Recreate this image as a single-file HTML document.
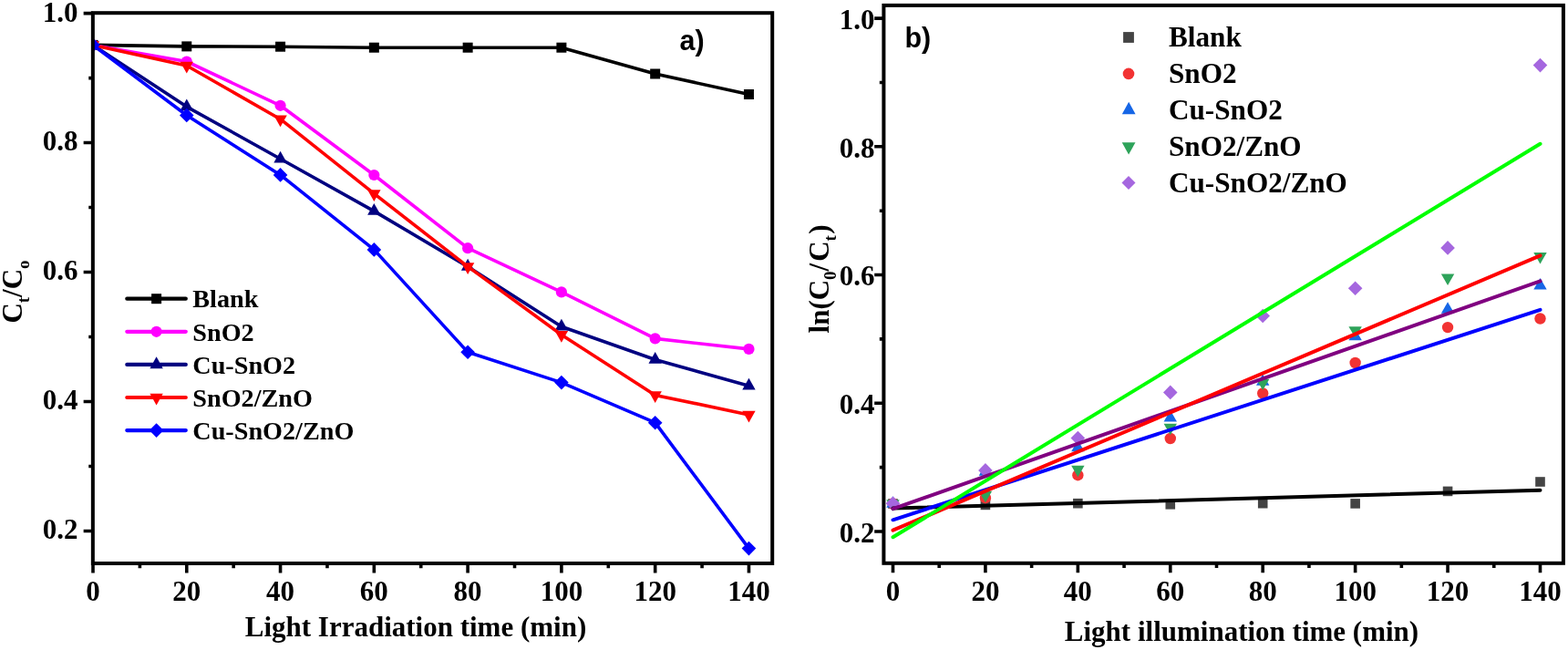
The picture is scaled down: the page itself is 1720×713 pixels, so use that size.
<!DOCTYPE html>
<html><head><meta charset="utf-8"><title>Photocatalytic degradation</title>
<style>html,body{margin:0;padding:0;background:#fff;width:1720px;height:713px;overflow:hidden}svg{display:block}</style>
</head><body>
<svg width="1720" height="713" viewBox="0 0 1720 713">
<rect width="1720" height="713" fill="#ffffff"/>
<g clip-path="url(#clipA)">
<polyline points="102.00,49.40 204.78,50.90 307.56,51.20 410.34,52.20 513.12,52.20 615.90,52.20 718.68,81.00 821.46,103.50" fill="none" stroke="#000000" stroke-width="3.6" stroke-linejoin="round" stroke-linecap="round"/>
<rect x="96.50" y="43.90" width="11.00" height="11.00" fill="#000000"/>
<rect x="199.28" y="45.40" width="11.00" height="11.00" fill="#000000"/>
<rect x="302.06" y="45.70" width="11.00" height="11.00" fill="#000000"/>
<rect x="404.84" y="46.70" width="11.00" height="11.00" fill="#000000"/>
<rect x="507.62" y="46.70" width="11.00" height="11.00" fill="#000000"/>
<rect x="610.40" y="46.70" width="11.00" height="11.00" fill="#000000"/>
<rect x="713.18" y="75.50" width="11.00" height="11.00" fill="#000000"/>
<rect x="815.96" y="98.00" width="11.00" height="11.00" fill="#000000"/>
<polyline points="102.00,49.40 204.78,67.50 307.56,115.80 410.34,192.00 513.12,272.20 615.90,320.40 718.68,371.40 821.46,382.90" fill="none" stroke="#ff00ff" stroke-width="3.6" stroke-linejoin="round" stroke-linecap="round"/>
<circle cx="102.00" cy="49.40" r="6.10" fill="#ff00ff"/>
<circle cx="204.78" cy="67.50" r="6.10" fill="#ff00ff"/>
<circle cx="307.56" cy="115.80" r="6.10" fill="#ff00ff"/>
<circle cx="410.34" cy="192.00" r="6.10" fill="#ff00ff"/>
<circle cx="513.12" cy="272.20" r="6.10" fill="#ff00ff"/>
<circle cx="615.90" cy="320.40" r="6.10" fill="#ff00ff"/>
<circle cx="718.68" cy="371.40" r="6.10" fill="#ff00ff"/>
<circle cx="821.46" cy="382.90" r="6.10" fill="#ff00ff"/>
<polyline points="102.00,49.40 204.78,117.10 307.56,174.20 410.34,231.60 513.12,292.40 615.90,358.20 718.68,394.50 821.46,423.30" fill="none" stroke="#000080" stroke-width="3.6" stroke-linejoin="round" stroke-linecap="round"/>
<polygon points="102.00,40.87 109.20,53.67 94.80,53.67" fill="#000080"/>
<polygon points="204.78,108.57 211.98,121.37 197.58,121.37" fill="#000080"/>
<polygon points="307.56,165.67 314.76,178.47 300.36,178.47" fill="#000080"/>
<polygon points="410.34,223.07 417.54,235.87 403.14,235.87" fill="#000080"/>
<polygon points="513.12,283.87 520.32,296.67 505.92,296.67" fill="#000080"/>
<polygon points="615.90,349.67 623.10,362.47 608.70,362.47" fill="#000080"/>
<polygon points="718.68,385.97 725.88,398.77 711.48,398.77" fill="#000080"/>
<polygon points="821.46,414.77 828.66,427.57 814.26,427.57" fill="#000080"/>
<polyline points="102.00,49.40 204.78,72.00 307.56,130.70 410.34,212.40 513.12,292.40 615.90,367.30 718.68,433.40 821.46,454.90" fill="none" stroke="#ff0000" stroke-width="3.6" stroke-linejoin="round" stroke-linecap="round"/>
<polygon points="102.00,57.93 109.20,45.13 94.80,45.13" fill="#ff0000"/>
<polygon points="204.78,80.53 211.98,67.73 197.58,67.73" fill="#ff0000"/>
<polygon points="307.56,139.23 314.76,126.43 300.36,126.43" fill="#ff0000"/>
<polygon points="410.34,220.93 417.54,208.13 403.14,208.13" fill="#ff0000"/>
<polygon points="513.12,300.93 520.32,288.13 505.92,288.13" fill="#ff0000"/>
<polygon points="615.90,375.83 623.10,363.03 608.70,363.03" fill="#ff0000"/>
<polygon points="718.68,441.93 725.88,429.13 711.48,429.13" fill="#ff0000"/>
<polygon points="821.46,463.43 828.66,450.63 814.26,450.63" fill="#ff0000"/>
<polyline points="102.00,49.40 204.78,126.50 307.56,191.90 410.34,273.90 513.12,386.30 615.90,419.60 718.68,463.70 821.46,601.60" fill="none" stroke="#0000ff" stroke-width="3.6" stroke-linejoin="round" stroke-linecap="round"/>
<polygon points="102.00,41.60 109.80,49.40 102.00,57.20 94.20,49.40" fill="#0000ff"/>
<polygon points="204.78,118.70 212.58,126.50 204.78,134.30 196.98,126.50" fill="#0000ff"/>
<polygon points="307.56,184.10 315.36,191.90 307.56,199.70 299.76,191.90" fill="#0000ff"/>
<polygon points="410.34,266.10 418.14,273.90 410.34,281.70 402.54,273.90" fill="#0000ff"/>
<polygon points="513.12,378.50 520.92,386.30 513.12,394.10 505.32,386.30" fill="#0000ff"/>
<polygon points="615.90,411.80 623.70,419.60 615.90,427.40 608.10,419.60" fill="#0000ff"/>
<polygon points="718.68,455.90 726.48,463.70 718.68,471.50 710.88,463.70" fill="#0000ff"/>
<polygon points="821.46,593.80 829.26,601.60 821.46,609.40 813.66,601.60" fill="#0000ff"/>
</g>
<rect x="101.85" y="14.20" width="745.35" height="603.80" fill="none" stroke="#000" stroke-width="4.0" stroke-linejoin="miter"/>
<path d="M102.00,618.00V628.50M204.78,618.00V628.50M307.56,618.00V628.50M410.34,618.00V628.50M513.12,618.00V628.50M615.90,618.00V628.50M718.68,618.00V628.50M821.46,618.00V628.50M153.39,618.00V623.20M256.17,618.00V623.20M358.95,618.00V623.20M461.73,618.00V623.20M564.51,618.00V623.20M667.29,618.00V623.20M770.07,618.00V623.20M101.85,582.44H91.65M101.85,440.48H91.65M101.85,298.52H91.65M101.85,156.56H91.65M101.85,14.60H91.65M101.85,511.46H97.25M101.85,369.50H97.25M101.85,227.54H97.25M101.85,85.58H97.25" stroke="#000" stroke-width="3.6" fill="none"/>
<g font-family='"Liberation Serif", "Times New Roman", serif' font-weight="bold" font-size="31" fill="#000">
<text x="102.00" y="658.8" text-anchor="middle">0</text>
<text x="204.78" y="658.8" text-anchor="middle">20</text>
<text x="307.56" y="658.8" text-anchor="middle">40</text>
<text x="410.34" y="658.8" text-anchor="middle">60</text>
<text x="513.12" y="658.8" text-anchor="middle">80</text>
<text x="615.90" y="658.8" text-anchor="middle">100</text>
<text x="718.68" y="658.8" text-anchor="middle">120</text>
<text x="821.46" y="658.8" text-anchor="middle">140</text>
<text x="85.6" y="591.34" text-anchor="end">0.2</text>
<text x="85.6" y="449.38" text-anchor="end">0.4</text>
<text x="85.6" y="307.42" text-anchor="end">0.6</text>
<text x="85.6" y="165.46" text-anchor="end">0.8</text>
<text x="85.6" y="23.50" text-anchor="end">1.0</text>
</g>
<text x="456" y="697.5" text-anchor="middle" font-family='"Liberation Serif", "Times New Roman", serif' font-weight="bold" font-size="31">Light Irradiation time (min)</text>
<text transform="translate(24.2,320) rotate(-90)" text-anchor="middle" font-family='"Liberation Serif", "Times New Roman", serif' font-weight="bold" font-size="31">C<tspan font-size="19" dy="8">t</tspan><tspan dy="-8">/C</tspan><tspan font-size="19" dy="8">o</tspan></text>
<text x="745.5" y="54.7" font-family='"Liberation Sans", Arial, sans-serif' font-weight="bold" font-size="30.5">a)</text>
<g font-family='"Liberation Serif", "Times New Roman", serif' font-weight="bold" font-size="28.2" fill="#000">
<line x1="139.3" y1="327.70" x2="203.8" y2="327.70" stroke="#000000" stroke-width="4.2" stroke-linecap="round"/>
<rect x="166.10" y="322.20" width="11.00" height="11.00" fill="#000000"/>
<text x="211.3" y="337.40">Blank</text>
<line x1="139.3" y1="363.80" x2="203.8" y2="363.80" stroke="#ff00ff" stroke-width="4.2" stroke-linecap="round"/>
<circle cx="171.60" cy="363.80" r="6.10" fill="#ff00ff"/>
<text x="211.3" y="373.50">SnO2</text>
<line x1="139.3" y1="399.90" x2="203.8" y2="399.90" stroke="#000080" stroke-width="4.2" stroke-linecap="round"/>
<polygon points="171.60,391.37 178.80,404.17 164.40,404.17" fill="#000080"/>
<text x="211.3" y="409.60">Cu-SnO2</text>
<line x1="139.3" y1="436.00" x2="203.8" y2="436.00" stroke="#ff0000" stroke-width="4.2" stroke-linecap="round"/>
<polygon points="171.60,444.53 178.80,431.73 164.40,431.73" fill="#ff0000"/>
<text x="211.3" y="445.70">SnO2/ZnO</text>
<line x1="139.3" y1="472.10" x2="203.8" y2="472.10" stroke="#0000ff" stroke-width="4.2" stroke-linecap="round"/>
<polygon points="171.60,464.30 179.40,472.10 171.60,479.90 163.80,472.10" fill="#0000ff"/>
<text x="211.3" y="481.80">Cu-SnO2/ZnO</text>
</g>
<rect x="974.20" y="547.20" width="10.60" height="10.60" fill="#444444"/>
<rect x="1075.63" y="548.60" width="10.60" height="10.60" fill="#444444"/>
<rect x="1177.06" y="546.90" width="10.60" height="10.60" fill="#444444"/>
<rect x="1278.48" y="548.00" width="10.60" height="10.60" fill="#444444"/>
<rect x="1379.91" y="546.90" width="10.60" height="10.60" fill="#444444"/>
<rect x="1481.34" y="547.10" width="10.60" height="10.60" fill="#444444"/>
<rect x="1582.77" y="533.60" width="10.60" height="10.60" fill="#444444"/>
<rect x="1684.20" y="523.20" width="10.60" height="10.60" fill="#444444"/>
<circle cx="979.50" cy="552.50" r="6.20" fill="#f23333"/>
<circle cx="1080.93" cy="546.20" r="6.20" fill="#f23333"/>
<circle cx="1182.36" cy="521.20" r="6.20" fill="#f23333"/>
<circle cx="1283.78" cy="481.00" r="6.20" fill="#f23333"/>
<circle cx="1385.21" cy="431.50" r="6.20" fill="#f23333"/>
<circle cx="1486.64" cy="398.00" r="6.20" fill="#f23333"/>
<circle cx="1588.07" cy="359.10" r="6.20" fill="#f23333"/>
<circle cx="1689.50" cy="349.50" r="6.20" fill="#f23333"/>
<polygon points="979.50,544.23 986.70,556.63 972.30,556.63" fill="#1666e6"/>
<polygon points="1080.93,509.23 1088.13,521.63 1073.73,521.63" fill="#1666e6"/>
<polygon points="1182.36,482.73 1189.56,495.13 1175.16,495.13" fill="#1666e6"/>
<polygon points="1283.78,450.03 1290.98,462.43 1276.58,462.43" fill="#1666e6"/>
<polygon points="1385.21,410.43 1392.41,422.83 1378.01,422.83" fill="#1666e6"/>
<polygon points="1486.64,360.73 1493.84,373.13 1479.44,373.13" fill="#1666e6"/>
<polygon points="1588.07,331.23 1595.27,343.63 1580.87,343.63" fill="#1666e6"/>
<polygon points="1689.50,305.03 1696.70,317.43 1682.30,317.43" fill="#1666e6"/>
<polygon points="979.50,560.77 986.70,548.37 972.30,548.37" fill="#2ea35a"/>
<polygon points="1080.93,551.27 1088.13,538.87 1073.73,538.87" fill="#2ea35a"/>
<polygon points="1182.36,523.27 1189.56,510.87 1175.16,510.87" fill="#2ea35a"/>
<polygon points="1283.78,477.27 1290.98,464.87 1276.58,464.87" fill="#2ea35a"/>
<polygon points="1385.21,428.07 1392.41,415.67 1378.01,415.67" fill="#2ea35a"/>
<polygon points="1486.64,370.57 1493.84,358.17 1479.44,358.17" fill="#2ea35a"/>
<polygon points="1588.07,312.97 1595.27,300.57 1580.87,300.57" fill="#2ea35a"/>
<polygon points="1689.50,289.47 1696.70,277.07 1682.30,277.07" fill="#2ea35a"/>
<polygon points="979.50,544.40 987.30,552.20 979.50,560.00 971.70,552.20" fill="#a567df"/>
<polygon points="1080.93,508.10 1088.73,515.90 1080.93,523.70 1073.13,515.90" fill="#a567df"/>
<polygon points="1182.36,472.80 1190.16,480.60 1182.36,488.40 1174.56,480.60" fill="#a567df"/>
<polygon points="1283.78,422.60 1291.58,430.40 1283.78,438.20 1275.98,430.40" fill="#a567df"/>
<polygon points="1385.21,338.70 1393.01,346.50 1385.21,354.30 1377.41,346.50" fill="#a567df"/>
<polygon points="1486.64,308.50 1494.44,316.30 1486.64,324.10 1478.84,316.30" fill="#a567df"/>
<polygon points="1588.07,264.10 1595.87,271.90 1588.07,279.70 1580.27,271.90" fill="#a567df"/>
<polygon points="1689.50,63.80 1697.30,71.60 1689.50,79.40 1681.70,71.60" fill="#a567df"/>
<line x1="979.50" y1="557.60" x2="1689.50" y2="537.70" stroke="#000000" stroke-width="4" stroke-linecap="round"/>
<line x1="979.50" y1="570.30" x2="1689.50" y2="339.80" stroke="#0000ff" stroke-width="4" stroke-linecap="round"/>
<line x1="979.50" y1="558.10" x2="1689.50" y2="308.40" stroke="#800080" stroke-width="4" stroke-linecap="round"/>
<line x1="979.50" y1="581.70" x2="1689.50" y2="280.40" stroke="#ff0000" stroke-width="4" stroke-linecap="round"/>
<line x1="979.50" y1="589.20" x2="1689.50" y2="157.80" stroke="#00ff00" stroke-width="4" stroke-linecap="round"/>
<rect x="969.40" y="5.90" width="745.50" height="611.90" fill="none" stroke="#000" stroke-width="4.0"/>
<path d="M979.50,617.80V628.30M1080.93,617.80V628.30M1182.36,617.80V628.30M1283.78,617.80V628.30M1385.21,617.80V628.30M1486.64,617.80V628.30M1588.07,617.80V628.30M1689.50,617.80V628.30M1030.21,617.80V623.00M1131.64,617.80V623.00M1233.07,617.80V623.00M1334.50,617.80V623.00M1435.93,617.80V623.00M1537.35,617.80V623.00M1638.78,617.80V623.00M969.40,582.98H959.20M969.40,442.26H959.20M969.40,301.54H959.20M969.40,160.82H959.20M969.40,20.10H959.20M969.40,512.62H964.80M969.40,371.90H964.80M969.40,231.18H964.80M969.40,90.46H964.80" stroke="#000" stroke-width="3.6" fill="none"/>
<g font-family='"Liberation Serif", "Times New Roman", serif' font-weight="bold" font-size="31" fill="#000">
<text x="979.50" y="658.8" text-anchor="middle">0</text>
<text x="1080.93" y="658.8" text-anchor="middle">20</text>
<text x="1182.36" y="658.8" text-anchor="middle">40</text>
<text x="1283.78" y="658.8" text-anchor="middle">60</text>
<text x="1385.21" y="658.8" text-anchor="middle">80</text>
<text x="1486.64" y="658.8" text-anchor="middle">100</text>
<text x="1588.07" y="658.8" text-anchor="middle">120</text>
<text x="1689.50" y="658.8" text-anchor="middle">140</text>
<text x="959.5" y="594.88" text-anchor="end">0.2</text>
<text x="959.5" y="454.16" text-anchor="end">0.4</text>
<text x="959.5" y="313.44" text-anchor="end">0.6</text>
<text x="959.5" y="172.72" text-anchor="end">0.8</text>
<text x="959.5" y="32.00" text-anchor="end">1.0</text>
</g>
<text x="1362" y="703.0" text-anchor="middle" font-family='"Liberation Serif", "Times New Roman", serif' font-weight="bold" font-size="31">Light illumination time (min)</text>
<text transform="translate(909.2,306.0) rotate(-90)" text-anchor="middle" font-family='"Liberation Serif", "Times New Roman", serif' font-weight="bold" font-size="31">ln(C<tspan font-size="19" dy="8">0</tspan><tspan dy="-8">/</tspan><tspan dx="2.0">C</tspan><tspan font-size="19" dy="8">t</tspan><tspan dy="-8" dx="1.2">)</tspan></text>
<text x="992.4" y="52.1" font-family='"Liberation Sans", Arial, sans-serif' font-weight="bold" font-size="30.5">b)</text>
<g font-family='"Liberation Serif", "Times New Roman", serif' font-weight="bold" font-size="31.2" fill="#000">
<rect x="1232.10" y="35.10" width="11.80" height="11.80" fill="#444444"/>
<text x="1282.0" y="51.20">Blank</text>
<circle cx="1238.00" cy="80.90" r="6.30" fill="#f23333"/>
<text x="1282.0" y="91.10">SnO2</text>
<polygon points="1238.20,111.67 1245.60,125.37 1230.80,125.37" fill="#1666e6"/>
<text x="1282.0" y="131.00">Cu-SnO2</text>
<polygon points="1238.10,169.50 1245.50,156.30 1230.70,156.30" fill="#2ea35a"/>
<text x="1282.0" y="170.90">SnO2/ZnO</text>
<polygon points="1238.00,193.10 1245.50,200.60 1238.00,208.10 1230.50,200.60" fill="#a567df"/>
<text x="1282.0" y="210.80">Cu-SnO2/ZnO</text>
</g>
<defs><clipPath id="clipA"><rect x="101.85" y="14.20" width="745.35" height="603.80"/></clipPath></defs>
</svg>
</body></html>
